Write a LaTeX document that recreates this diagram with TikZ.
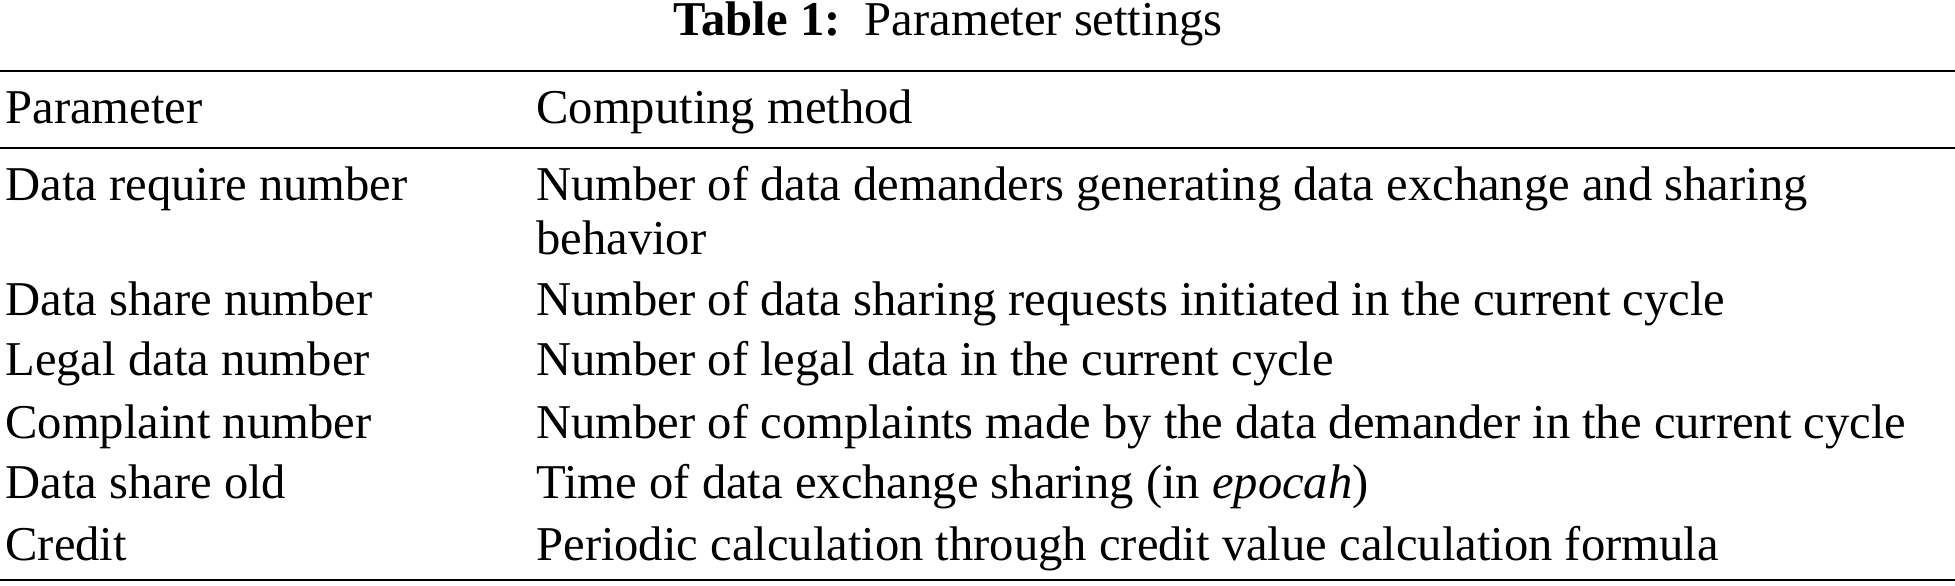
\documentclass[tikz,border=0pt]{standalone}
\usepackage{fontspec}
\setmainfont{Liberation Serif}
\begin{document}
\begin{tikzpicture}[x=1pt,y=1pt,
  cell/.style={anchor=base west,inner sep=0pt,font=\fontsize{24.3}{28}\selectfont},
  rule/.style={line width=1pt}]
\useasboundingbox (0,0) rectangle (977.5,-292.5);
\node[anchor=base,inner sep=0pt,font=\fontsize{24.3}{28}\selectfont] (title) at (474,-17.5) {\textbf{Table 1:}\enspace Parameter settings};
\draw[rule] (0,-35.5) coordinate (t1) -- (977.5,-35.5) coordinate (t2);
\draw[rule] (0,-74) coordinate (h1) -- (977.5,-74) coordinate (h2);
\draw[rule] (0,-290) coordinate (b1) -- (977.5,-290) coordinate (b2);
\node[cell] (p0) at (2.5,-61.5) {Parameter};
\node[cell] (c0) at (268,-61.5) {Computing method};
\node[cell] (p1) at (2.5,-100) {Data require number};
\node[cell] (c1) at (268,-100) {Number of data demanders generating data exchange and sharing};
\node[cell] (c1b) at (268,-127) {behavior};
\node[cell] (p2) at (2.5,-157.5) {Data share number};
\node[cell] (c2) at (268,-157.5) {Number of data sharing requests initiated in the current cycle};
\node[cell] (p3) at (2.5,-187.5) {Legal data number};
\node[cell] (c3) at (268,-187.5) {Number of legal data in the current cycle};
\node[cell] (p4) at (2.5,-219) {Complaint number};
\node[cell] (c4) at (268,-219) {Number of complaints made by the data demander in the current cycle};
\node[cell] (p5) at (2.5,-249) {Data share old};
\node[cell] (c5) at (268,-249) {Time of data exchange sharing (in \textit{epocah})};
\node[cell] (p6) at (2.5,-280) {Credit};
\node[cell] (c6) at (268,-280) {Periodic calculation through credit value calculation formula};
\end{tikzpicture}
\end{document}
